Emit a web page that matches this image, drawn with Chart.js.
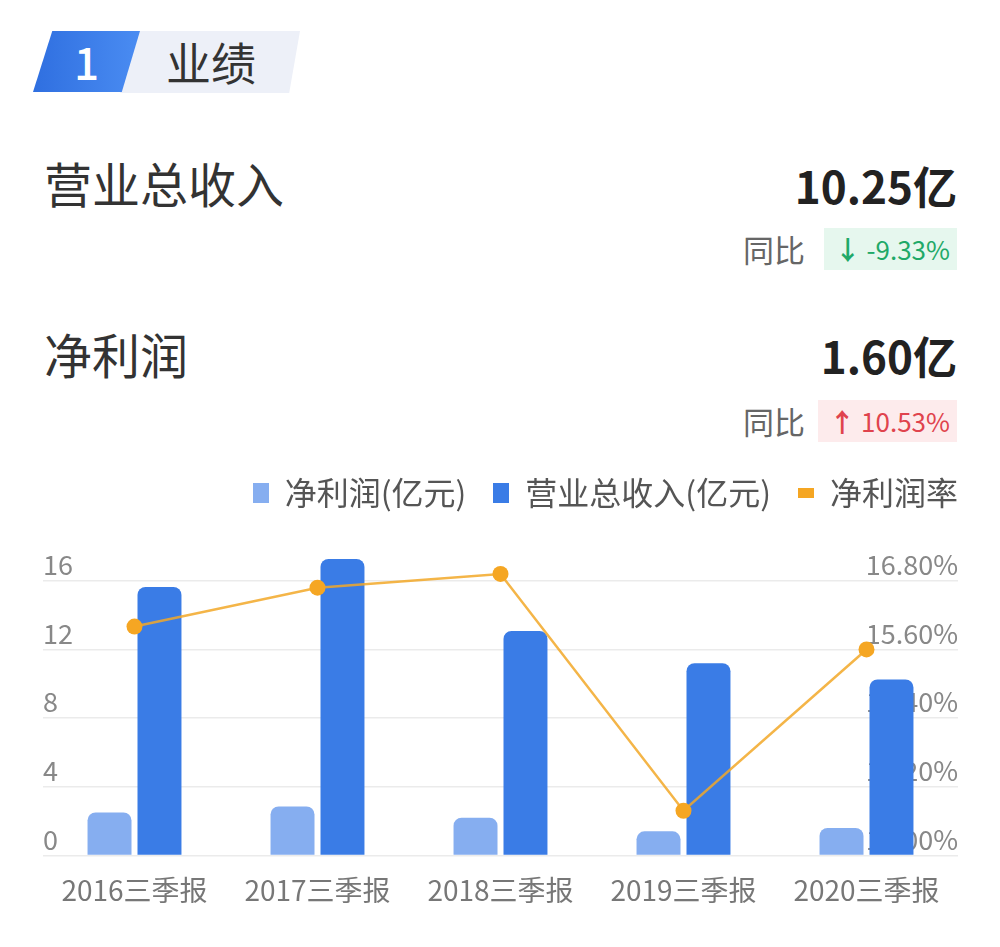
<!DOCTYPE html>
<html>
<head>
<meta charset="utf-8">
<script src="https://cdn.jsdelivr.net/npm/chart.js@4.4.0/dist/chart.umd.min.js"></script>
<style>
    body { margin: 0; background: #fff; font-family: "Noto Sans CJK SC", "Noto Sans", sans-serif; }
    .page { position: relative; width: 1000px; height: 947px; overflow: hidden; }
    .tag-bg { position: absolute; left: 120px; top: 31px; width: 180px; height: 62px; background: #edf0f8;
        clip-path: polygon(10% 0, 100% 0, 94% 100%, 0 100%); }
    .tag-num { position: absolute; left: 33px; top: 31px; width: 107px; height: 61px;
        background: linear-gradient(90deg, #2f6fe0, #4a8cf2);
        clip-path: polygon(18% 0, 100% 0, 83% 100%, 0 100%);
        color: #fff; font-size: 44px; font-weight: 500; line-height: 61px; text-align: center; }
    .tag-text { position: absolute; left: 166px; top: 31px; line-height: 62px; font-size: 45px; color: #333; }
    .row-title { position: absolute; left: 44px; font-size: 48px; color: #333; line-height: 60px; }
    .row-value { position: absolute; right: 43px; font-size: 44px; font-weight: bold; color: #222; line-height: 60px; }
    .yoy { position: absolute; right: 195px; font-size: 31px; color: #666; line-height: 42px; }
    .badge { position: absolute; right: 43px; height: 42px; line-height: 42px; font-size: 26px; padding: 0 7px 0 11px; }
    .badge b { font-weight: bold; }
    .badge.down { background: #e6f7ee; color: #1fa968; }
    .badge.up { background: #fdebec; color: #e0434d; }
    .chart-box { position: absolute; left: 0; top: 450px; width: 1000px; height: 467px; }
</style>
</head>
<body>
<div class="page">
    <div class="tag-bg"></div>
    <div class="tag-num">1</div>
    <div class="tag-text">业绩</div>

    <div class="row-title" style="top:152px">营业总收入</div>
    <div class="row-value" style="top:155px">10.25亿</div>
    <div class="yoy" style="top:228px">同比</div>
    <div class="badge down" style="top:228px"><b>↓</b> -9.33%</div>

    <div class="row-title" style="top:323px">净利润</div>
    <div class="row-value" style="top:325px">1.60亿</div>
    <div class="yoy" style="top:400px">同比</div>
    <div class="badge up" style="top:400px"><b>↑</b> 10.53%</div>

    <div class="chart-box"><canvas id="perfChart"></canvas></div>
</div>
<script>
// ===== Data =====
const categories = ['2016三季报', '2017三季报', '2018三季报', '2019三季报', '2020三季报'];
const netProfit = [2.5, 2.85, 2.2, 1.4, 1.6];          // 亿元
const revenue = [15.64, 17.27, 13.08, 11.2, 10.25];    // 亿元
const profitMargin = [16.0, 16.68, 16.92, 12.78, 15.6]; // %
const leftTicks = [0, 4, 8, 12, 16];
const rightTicks = [12.0, 13.2, 14.4, 15.6, 16.8];

const LIGHT_BLUE = '#86aef0';
const DARK_BLUE = '#3a7ce6';
const ORANGE = '#f5a623';

// left 0..16 maps onto right 12..16.8
const leftMax = 19.6;
const rightMax = 12 + leftMax * 0.3;

const LEGEND_GAP = 27;

// small canvases used as legend markers
function legendMarker(color, w, h) {
    const c = document.createElement('canvas');
    c.width = w;
    c.height = h;
    const g = c.getContext('2d');
    g.fillStyle = color;
    g.fillRect(0, 0, w, h);
    return c;
}
const markers = [
    legendMarker(LIGHT_BLUE, 16, 20),
    legendMarker(DARK_BLUE, 16, 20),
    legendMarker(ORANGE, 16, 10)
];

const font = '"Noto Sans CJK SC", "Noto Sans", sans-serif';

new Chart(document.getElementById('perfChart'), {
    data: {
        labels: categories,
        datasets: [
            {
                type: 'bar',
                label: '净利润(亿元)',
                data: netProfit,
                backgroundColor: LIGHT_BLUE,
                borderRadius: 8,
                yAxisID: 'y',
                order: 1,
                categoryPercentage: 0.546,
                barPercentage: 0.88
            },
            {
                type: 'bar',
                label: '营业总收入(亿元)',
                data: revenue,
                backgroundColor: DARK_BLUE,
                borderRadius: 8,
                yAxisID: 'y',
                order: 2,
                categoryPercentage: 0.546,
                barPercentage: 0.88
            },
            {
                type: 'line',
                label: '净利润率',
                data: profitMargin,
                borderColor: 'rgba(242, 168, 40, 0.85)',
                borderWidth: 2.5,
                pointRadius: 8,
                pointBackgroundColor: ORANGE,
                pointBorderWidth: 0,
                tension: 0,
                yAxisID: 'y1',
                order: 0
            }
        ]
    },
    options: {
        responsive: true,
        maintainAspectRatio: false,
        animation: false,
        layout: { padding: { left: 43, right: 42 - LEGEND_GAP, top: 0, bottom: 0 } },
        plugins: {
            tooltip: { enabled: false },
            legend: {
                position: 'top',
                align: 'end',
                labels: {
                    usePointStyle: true,
                    boxWidth: 16,
                    boxHeight: 20,
                    pointStyleWidth: 16,
                    padding: LEGEND_GAP,
                    color: '#555',
                    font: { family: font, size: 32 },
                    generateLabels: function(chart) {
                        return chart.data.datasets.map(function(ds, i) {
                            return {
                                text: ds.label,
                                pointStyle: markers[i],
                                fillStyle: 'transparent',
                                strokeStyle: 'transparent',
                                lineWidth: 0,
                                fontColor: '#555',
                                hidden: false,
                                datasetIndex: i
                            };
                        });
                    }
                }
            }
        },
        scales: {
            x: {
                grid: { display: false },
                border: { display: false },
                ticks: {
                    color: '#777',
                    padding: 10,
                    font: { family: font, size: 28 }
                }
            },
            y: {
                position: 'left',
                min: 0,
                max: leftMax,
                afterBuildTicks: function(axis) {
                    axis.ticks = leftTicks.map(function(v) { return { value: v }; });
                },
                grid: { color: '#ebebeb', lineWidth: 1.5, drawTicks: false },
                border: { display: false },
                ticks: {
                    mirror: true,
                    padding: 0,
                    labelOffset: -16,
                    color: '#888',
                    font: { family: font, size: 27 }
                }
            },
            y1: {
                position: 'right',
                min: 12,
                max: rightMax,
                afterBuildTicks: function(axis) {
                    axis.ticks = rightTicks.map(function(v) { return { value: v }; });
                },
                // keep the legend's trailing gap outside the plot
                afterFit: function(axis) { axis.width = LEGEND_GAP; },
                grid: { display: false, drawTicks: false },
                border: { display: false },
                ticks: {
                    mirror: true,
                    padding: 0,
                    labelOffset: -16,
                    color: '#888',
                    font: { family: font, size: 27 },
                    callback: function(v) { return Number(v).toFixed(2) + '%'; }
                }
            }
        }
    }
});
</script>
</body>
</html>
